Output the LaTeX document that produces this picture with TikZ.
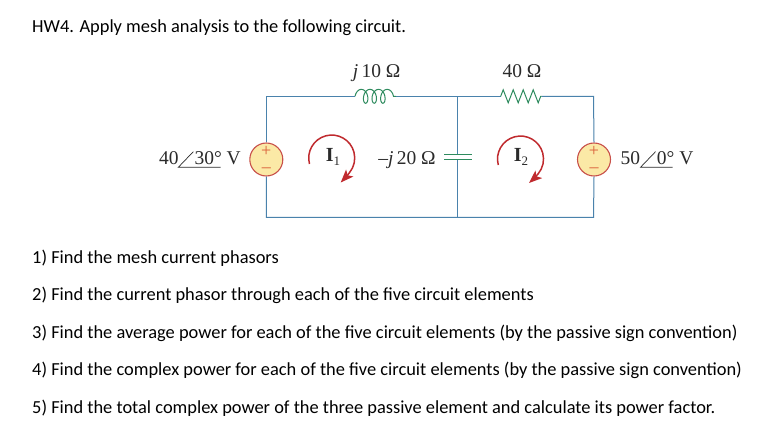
\documentclass[tikz,border=0pt]{standalone}
\usepackage{fontspec}
\setmainfont{Liberation Serif}
\newfontfamily\bodyfont{Carlito}
\usetikzlibrary{decorations.pathmorphing,arrows.meta}
\definecolor{wirec}{HTML}{4A82AC}
\definecolor{elemc}{HTML}{2E8B5E}
\definecolor{redc}{HTML}{C02A2E}
\definecolor{srcfill}{HTML}{FBE9A6}
\definecolor{srcline}{HTML}{C8504A}
\definecolor{plusc}{HTML}{D9603A}
\definecolor{inkc}{HTML}{2B2B2B}
\newcommand{\lowsub}[1]{\raisebox{-4pt}{\fontsize{13}{13}\selectfont\mdseries #1}}
\tikzset{
  wire/.style={draw=wirec,line width=1pt},
  elem/.style={draw=elemc,line width=1pt},
  src/.style={circle,draw=srcline,fill=srcfill,line width=1.1pt,minimum size=33pt,inner sep=0pt},
  para/.style={font=\bodyfont\fontsize{18.4}{20}\selectfont,anchor=base west,inner sep=0pt,text=black},
  lab/.style={font=\fontsize{19.5}{20}\selectfont,inner sep=0pt,text=inkc,anchor=base},
  mesh/.style={font=\bfseries\fontsize{20}{20}\selectfont,inner sep=0pt,text=inkc,anchor=base},
  loop/.style={draw=redc,line width=1.5pt,-{Stealth[length=13pt,width=10pt,inset=3pt]}},
  sign/.style={font=\fontsize{18}{16}\selectfont,inner sep=0pt,text=plusc,align=center},
  anglemark/.style={draw=inkc,line width=0.7pt}
}
\begin{document}
\begin{tikzpicture}[x=1pt,y=-1pt]
\useasboundingbox (0,0) rectangle (767,443);
\fill[white] (0,0) rectangle (767,443);
% corners
\coordinate (tl) at (266.3,96.3);
\coordinate (bl) at (266.3,217.3);
\coordinate (tm) at (457,96.3);
\coordinate (bm) at (457,217.3);
\coordinate (tr) at (593.5,96.3);
\coordinate (br) at (593.5,217.3);
\coordinate (lin) at (355,96.3);
\coordinate (lout) at (396,96.3);
\coordinate (rin) at (500.7,96.3);
\coordinate (rout) at (541.7,96.3);
\coordinate (ctop) at (457,154.3);
\coordinate (cbot) at (457,159.7);
\node[src] (vs1) at (266.3,159.5) {};
\node[src] (vs2) at (594,159.5) {};
% wires
\draw[wire] (vs1.north) -- (tl) -- (lin);
\draw[wire] (lout) -- (tm) -- (rin);
\draw[wire] (rout) -- (tr) -- (vs2.north);
\draw[wire] (vs1.south) -- (bl) -- (bm) -- (br) -- (vs2.south);
\draw[wire] (tm) -- (ctop);
\draw[wire] (cbot) -- (bm);
% elements
\draw[elem,decorate,decoration={coil,aspect=0.6,segment length=8.6pt,amplitude=7pt}] (lin) -- (lout);
\draw[elem,decorate,decoration={zigzag,segment length=10pt,amplitude=6.5pt}] (rin) -- (rout);
\draw[elem] (444,154.3) -- (472,154.3);
\draw[elem] (444,159.7) -- (472,159.7);
% source signs
\node[sign] (s1) at (266.3,159) {+\\\textendash};
\node[sign] (s2) at (594,159) {+\\\textendash};
% labels
\node[lab] (ljw) at (376.7,77.7) {\textit{j}\,10 Ω};
\node[lab] (lr) at (522,77.7) {40 Ω};
\node[lab] (lc) at (407,165) {\textendash\textit{j}\,20 Ω};
\node[lab,anchor=base west] (v1a) at (159,165) {40};
\node[lab,anchor=base west] (v1b) at (194.3,165) {30\textdegree\ V};
\draw[anglemark] (193.3,151.7) -- (178.3,167.3) -- (220.7,167.3);
\node[lab,anchor=base west] (v2a) at (620.5,165) {50};
\node[lab,anchor=base west] (v2b) at (656.7,165) {0\textdegree\ V};
\draw[anglemark] (655.5,151.7) -- (640.5,167.3) -- (672.7,167.3);
% mesh labels
\node[mesh] (i1) at (333,161.7) {I\lowsub{1}};
\node[mesh] (i2) at (521,161.7) {I\lowsub{2}};
\draw[loop] (309.5,164) arc[start angle=-195,end angle=40,radius=23] .. controls (347,176) and (345,178) .. (340.7,182.5);
\draw[loop] (498.3,165) arc[start angle=-195,end angle=40,radius=23] .. controls (535.5,177) and (533.5,179) .. (529,183);
% text
\node[para] (t0) at (32,32.5) {HW4. Apply mesh analysis to the following circuit.};
\node[para] (t1) at (32,263) {1) Find the mesh current phasors};
\node[para] (t2) at (32,300.5) {2) Find the current phasor through each of the five circuit elements};
\node[para] (t3) at (32,338) {3) Find the average power for each of the five circuit elements (by the passive sign convention)};
\node[para] (t4) at (32,375) {4) Find the complex power for each of the five circuit elements (by the passive sign convention)};
\node[para] (t5) at (32,413) {5) Find the total complex power of the three passive element and calculate its power factor.};
\end{tikzpicture}
\end{document}
